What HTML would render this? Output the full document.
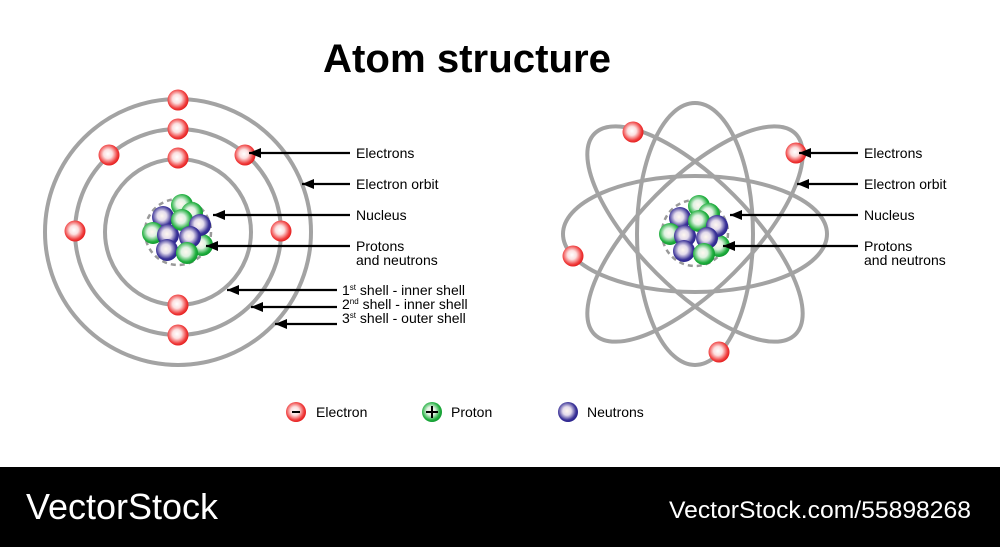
<!DOCTYPE html>
<html><head><meta charset="utf-8"><style>
html,body{margin:0;padding:0;background:#fff}
svg{display:block}
text{font-family:"Liberation Sans",sans-serif}
</style></head><body>
<svg width="1000" height="547" viewBox="0 0 1000 547" xmlns="http://www.w3.org/2000/svg">
<defs>
<radialGradient id="re" cx="0.45" cy="0.45" r="0.6"><stop offset="0" stop-color="#fff"/><stop offset="0.35" stop-color="#fce0e0"/><stop offset="0.75" stop-color="#f04040"/><stop offset="1" stop-color="#e01010"/></radialGradient>
<radialGradient id="gp" cx="0.45" cy="0.45" r="0.6"><stop offset="0" stop-color="#fff8f0"/><stop offset="0.35" stop-color="#e0f2e2"/><stop offset="0.75" stop-color="#22b040"/><stop offset="1" stop-color="#089028"/></radialGradient>
<radialGradient id="bn" cx="0.45" cy="0.45" r="0.6"><stop offset="0" stop-color="#fff8f0"/><stop offset="0.35" stop-color="#e4dcec"/><stop offset="0.75" stop-color="#3c3498"/><stop offset="1" stop-color="#201a88"/></radialGradient>
<marker id="ah" markerWidth="14" markerHeight="12" refX="0" refY="5" orient="auto" markerUnits="userSpaceOnUse"><path d="M0,5 L12,0 L12,10 Z" fill="#000"/></marker>
<g id="nuc">
<circle cx="0" cy="0" r="33" fill="none" stroke="#999" stroke-width="2.5" stroke-dasharray="5,4"/>
<circle cx="4" cy="-27" r="11" fill="url(#gp)"/>
<circle cx="14" cy="-19" r="11" fill="url(#gp)"/>
<circle cx="-15" cy="-15" r="11" fill="url(#bn)"/>
<circle cx="24" cy="13" r="11" fill="url(#gp)"/>
<circle cx="-25" cy="1" r="11" fill="url(#gp)"/>
<circle cx="-10" cy="3" r="11" fill="url(#bn)"/>
<circle cx="4" cy="-12" r="11" fill="url(#gp)"/>
<circle cx="22" cy="-7" r="11" fill="url(#bn)"/>
<circle cx="12" cy="5" r="11" fill="url(#bn)"/>
<circle cx="-11" cy="18" r="11" fill="url(#bn)"/>
<circle cx="9" cy="21" r="11" fill="url(#gp)"/>
</g>
<circle id="el" cx="0" cy="0" r="10.5" fill="url(#re)"/>
</defs>

<text x="467" y="72" font-size="40" font-weight="bold" text-anchor="middle" fill="#000" textLength="288" lengthAdjust="spacingAndGlyphs">Atom structure</text>

<!-- left atom -->
<g fill="none" stroke="#a3a3a3" stroke-width="4">
<circle cx="178" cy="232" r="73"/>
<circle cx="178" cy="232" r="103"/>
<circle cx="178" cy="232" r="133"/>
</g>
<use href="#nuc" x="178" y="232"/>
<use href="#el" x="178" y="100"/><use href="#el" x="178" y="129"/><use href="#el" x="178" y="158"/>
<use href="#el" x="109" y="155"/><use href="#el" x="245" y="155"/>
<use href="#el" x="75" y="231"/><use href="#el" x="281" y="231"/>
<use href="#el" x="178" y="305"/><use href="#el" x="178" y="335"/>

<!-- right atom -->
<g fill="none" stroke="#a3a3a3" stroke-width="4">
<ellipse cx="695" cy="234" rx="132" ry="58"/>
<ellipse cx="695" cy="234" rx="58" ry="131"/>
<ellipse cx="695" cy="234" rx="142" ry="55" transform="rotate(45 695 234)"/>
<ellipse cx="695" cy="234" rx="142" ry="55" transform="rotate(-45 695 234)"/>
</g>
<use href="#nuc" x="695" y="233"/>
<use href="#el" x="633" y="132"/><use href="#el" x="796" y="153"/>
<use href="#el" x="573" y="256"/><use href="#el" x="719" y="352"/>

<!-- arrows -->
<g stroke="#000" stroke-width="2.2" marker-start="url(#ah)">
<line x1="249" y1="153" x2="350" y2="153"/>
<line x1="302" y1="184" x2="350" y2="184"/>
<line x1="213" y1="215" x2="350" y2="215"/>
<line x1="206" y1="246" x2="350" y2="246"/>
<line x1="227" y1="290" x2="337" y2="290"/>
<line x1="251" y1="307" x2="337" y2="307"/>
<line x1="275" y1="324" x2="337" y2="324"/>
<line x1="799" y1="153" x2="858" y2="153"/>
<line x1="797" y1="184" x2="858" y2="184"/>
<line x1="730" y1="215" x2="858" y2="215"/>
<line x1="723" y1="246" x2="858" y2="246"/>
</g>
<g font-size="14" fill="#000">
<text x="356" y="158">Electrons</text>
<text x="356" y="189">Electron orbit</text>
<text x="356" y="220">Nucleus</text>
<text x="356" y="251">Protons</text>
<text x="356" y="265">and neutrons</text>
<text x="342" y="295">1<tspan font-size="8" dy="-5">st</tspan><tspan dy="5">  shell - inner shell</tspan></text>
<text x="342" y="309">2<tspan font-size="8" dy="-5">nd</tspan><tspan dy="5"> shell - inner shell</tspan></text>
<text x="342" y="323">3<tspan font-size="8" dy="-5">st</tspan><tspan dy="5">  shell - outer shell</tspan></text>
<text x="864" y="158">Electrons</text>
<text x="864" y="189">Electron orbit</text>
<text x="864" y="220">Nucleus</text>
<text x="864" y="251">Protons</text>
<text x="864" y="265">and neutrons</text>
</g>

<!-- legend -->
<circle cx="296" cy="412" r="10" fill="url(#re)"/>
<line x1="292" y1="412" x2="300" y2="412" stroke="#000" stroke-width="2"/>
<text x="316" y="417" font-size="14">Electron</text>
<circle cx="432" cy="412" r="10" fill="url(#gp)"/>
<path d="M426,412 H438 M432,406 V418" stroke="#000" stroke-width="2"/>
<text x="451" y="417" font-size="14">Proton</text>
<circle cx="568" cy="412" r="10" fill="url(#bn)"/>
<text x="587" y="417" font-size="14">Neutrons</text>

<!-- footer -->
<rect x="0" y="467" width="1000" height="80" fill="#000"/>
<text x="26" y="519" font-size="36" fill="#fff" textLength="192" lengthAdjust="spacingAndGlyphs">VectorStock</text>
<text x="971" y="518" font-size="24" fill="#fff" text-anchor="end" textLength="302" lengthAdjust="spacingAndGlyphs">VectorStock.com/55898268</text>
</svg>
</body></html>
